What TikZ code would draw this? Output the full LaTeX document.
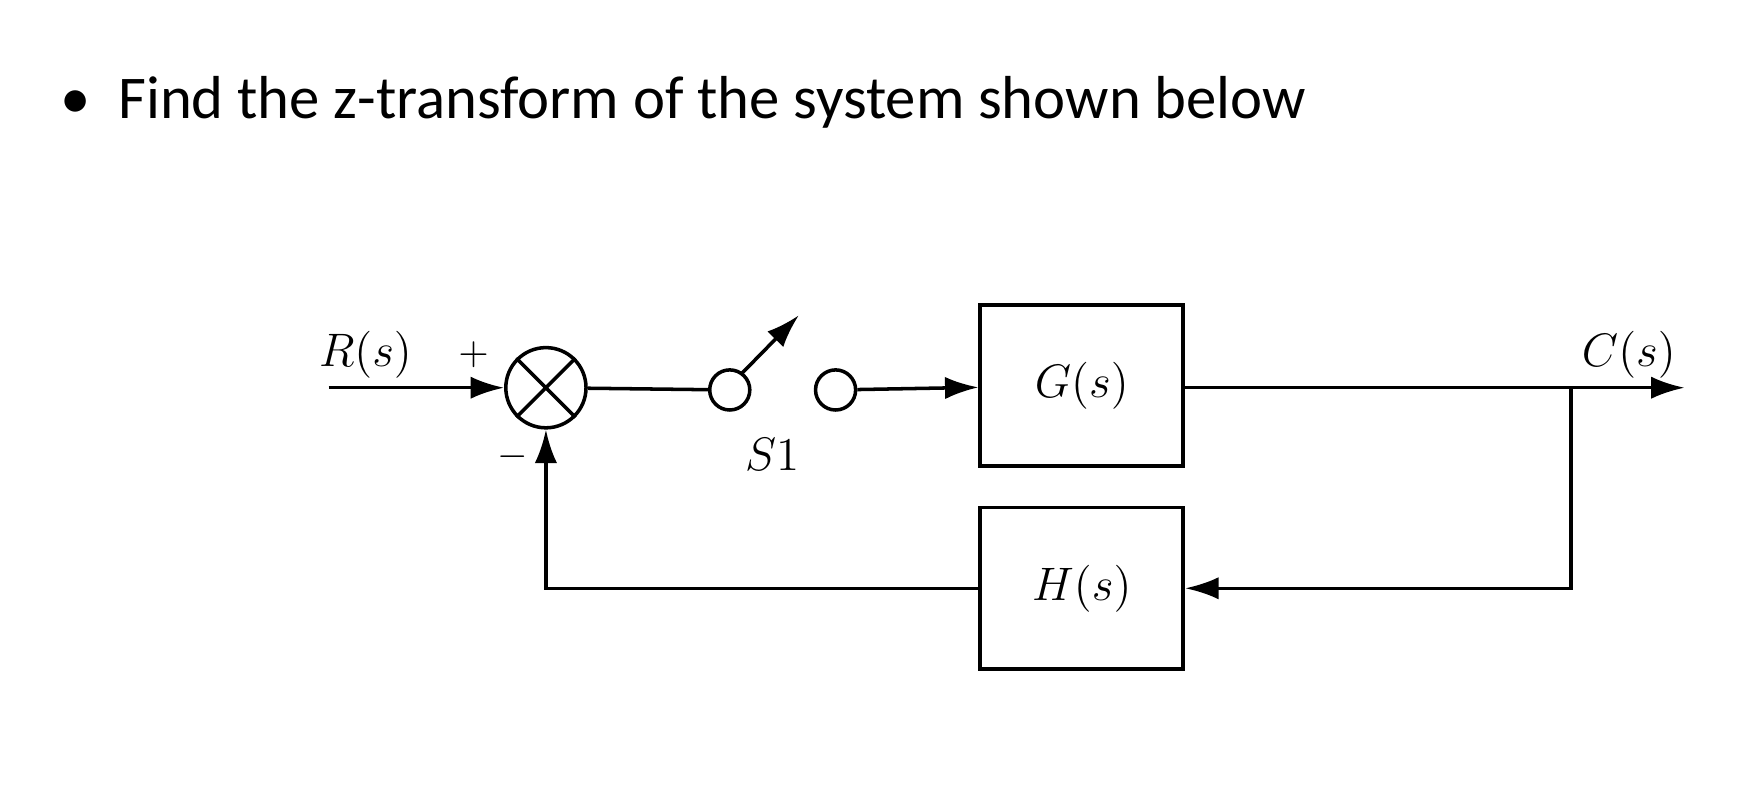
\documentclass[tikz,border=0pt]{standalone}
\usepackage{fontspec}
\newfontfamily\slidefont{Carlito}
\usetikzlibrary{positioning,arrows.meta}
\tikzset{
  blk/.style={draw,line width=1pt,minimum width=1.82cm,minimum height=1.45cm,font=\large},
  sig/.style={line width=0.9pt,-{Latex[length=3mm,width=2mm]}},
  wire/.style={line width=0.9pt},
  pin/.style={draw,circle,line width=0.9pt,minimum size=0.36cm,inner sep=0pt}
}
\begin{document}
\begin{tikzpicture}
\useasboundingbox (0,0) rectangle (15.6,7.09);
\node[anchor=west,font=\slidefont\fontsize{15.5}{18}\selectfont] (title) at (0.42,6.17) {\symbol{"2022}\ \ Find the z-transform of the system shown below};
% blocks
\node[draw,circle,line width=0.9pt,minimum size=0.72cm,inner sep=0pt] (sum) at (4.90,3.61) {};
\draw[wire] (sum.north west) -- (sum.south east) (sum.north east) -- (sum.south west);
\node[pin] (sw1) at (6.55,3.59) {};
\node[pin] (sw2) at (7.50,3.59) {};
\node[blk] (G) at (9.71,3.63) {$G(s)$};
\node[blk] (H) at (9.71,1.81) {$H(s)$};
\coordinate (in) at (2.95,3.61);
\coordinate (br) at (14.10,3.61);
\coordinate (out) at (15.12,3.61);
\coordinate (lv1) at (6.66,3.74);
\coordinate (lv2) at (7.17,4.26);
% signals
\draw[sig] (in) -- (sum);
\draw[wire] (sum) -- (sw1);
\draw[sig] (lv1) -- (lv2);
\draw[sig] (sw2) -- (G);
\draw[sig] (G.east |- br) -- (out);
\draw[sig] (br) |- (H.east);
\draw[sig] (H.west) -| (sum.south);
% labels
\node[font=\large] (lr) at (3.28,3.91) {$R(s)$};
\node[font=\large] (lc) at (14.62,3.91) {$C(s)$};
\node[font=\large] (ls) at (6.93,3.01) {$S1$};
\node (lp) at (4.25,3.91) {$+$};
\node (lm) at (4.60,2.99) {$-$};
\end{tikzpicture}
\end{document}
